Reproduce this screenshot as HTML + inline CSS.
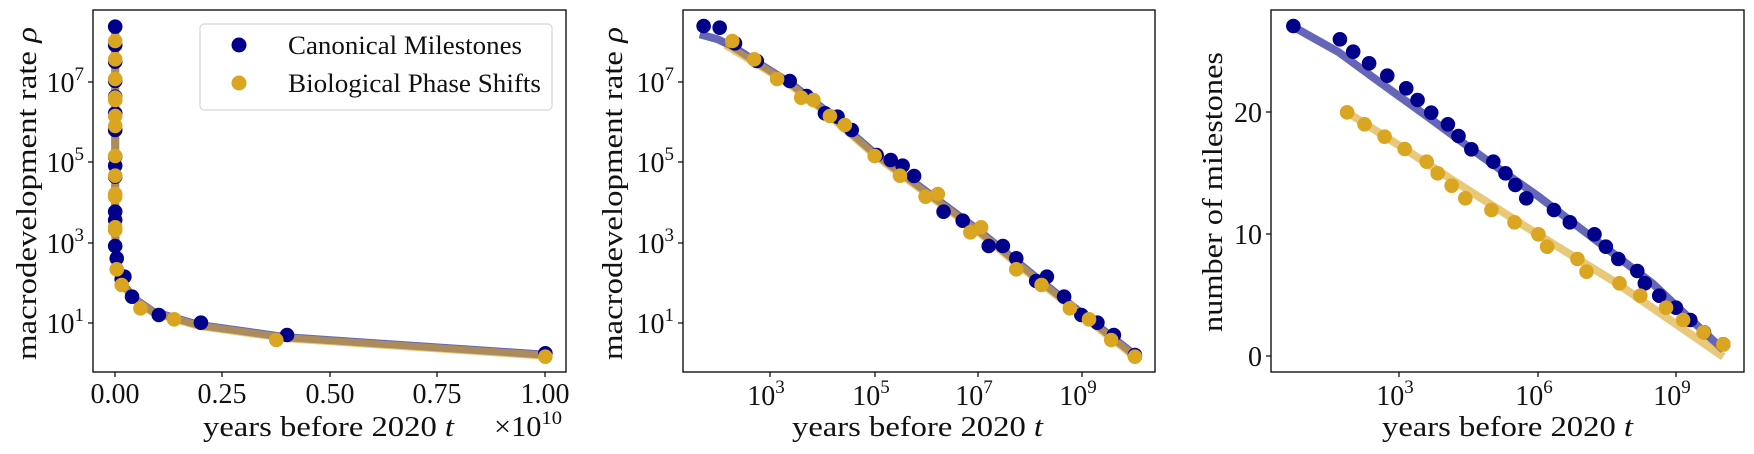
<!DOCTYPE html>
<html><head><meta charset="utf-8">
<style>
body{margin:0;background:#fff;}
svg{display:block;font-family:"Liberation Serif",serif;}
text{fill:#111;}
</style></head>
<body>
<svg id="s" width="1754" height="454" viewBox="0 0 1754 454" xmlns="http://www.w3.org/2000/svg">
<rect width="1754" height="454" fill="#fff"/>
<g id="lines"></g>
<g id="dots"></g>
<rect x="93" y="10" width="473" height="362" fill="none" stroke="#000" stroke-width="1.3"/>
<rect x="683" y="10" width="472" height="362" fill="none" stroke="#000" stroke-width="1.3"/>
<rect x="1271" y="10" width="473" height="362" fill="none" stroke="#000" stroke-width="1.3"/>
<g stroke="#000" stroke-width="1.2">
<line x1="88" y1="82" x2="93" y2="82"/><line x1="88" y1="162" x2="93" y2="162"/><line x1="88" y1="243" x2="93" y2="243"/><line x1="88" y1="323" x2="93" y2="323"/>
<line x1="115" y1="372" x2="115" y2="377"/><line x1="222" y1="372" x2="222" y2="377"/><line x1="330" y1="372" x2="330" y2="377"/><line x1="437" y1="372" x2="437" y2="377"/><line x1="545" y1="372" x2="545" y2="377"/>
<line x1="678" y1="82" x2="683" y2="82"/><line x1="678" y1="162" x2="683" y2="162"/><line x1="678" y1="243" x2="683" y2="243"/><line x1="678" y1="323" x2="683" y2="323"/>
<line x1="770" y1="372" x2="770" y2="377"/><line x1="875" y1="372" x2="875" y2="377"/><line x1="978" y1="372" x2="978" y2="377"/><line x1="1082" y1="372" x2="1082" y2="377"/>
<line x1="1266" y1="112" x2="1271" y2="112"/><line x1="1266" y1="234" x2="1271" y2="234"/><line x1="1266" y1="356" x2="1271" y2="356"/>
<line x1="1399" y1="372" x2="1399" y2="377"/><line x1="1538" y1="372" x2="1538" y2="377"/><line x1="1676" y1="372" x2="1676" y2="377"/>
</g>
<g font-size="28">
<text x="84" y="92" text-anchor="end">10<tspan dy="-12" font-size="19">7</tspan></text>
<text x="84" y="172" text-anchor="end">10<tspan dy="-12" font-size="19">5</tspan></text>
<text x="84" y="253" text-anchor="end">10<tspan dy="-12" font-size="19">3</tspan></text>
<text x="84" y="333" text-anchor="end">10<tspan dy="-12" font-size="19">1</tspan></text>
<text x="115" y="403" text-anchor="middle">0.00</text>
<text x="222" y="403" text-anchor="middle">0.25</text>
<text x="330" y="403" text-anchor="middle">0.50</text>
<text x="437" y="403" text-anchor="middle">0.75</text>
<text x="545" y="403" text-anchor="middle">1.00</text>
<text x="203" y="436" textLength="251" lengthAdjust="spacingAndGlyphs">years before 2020 <tspan font-style="italic">t</tspan></text>
<text x="494" y="436" textLength="68" lengthAdjust="spacingAndGlyphs">×10<tspan dy="-12" font-size="19">10</tspan></text>
<text transform="translate(36,360) rotate(-90)" textLength="333" lengthAdjust="spacingAndGlyphs">macrodevelopment rate <tspan font-style="italic">ρ</tspan></text>
<text x="674" y="92" text-anchor="end">10<tspan dy="-12" font-size="19">7</tspan></text>
<text x="674" y="172" text-anchor="end">10<tspan dy="-12" font-size="19">5</tspan></text>
<text x="674" y="253" text-anchor="end">10<tspan dy="-12" font-size="19">3</tspan></text>
<text x="674" y="333" text-anchor="end">10<tspan dy="-12" font-size="19">1</tspan></text>
<text x="766" y="405" text-anchor="middle">10<tspan dy="-12" font-size="19">3</tspan></text>
<text x="871" y="405" text-anchor="middle">10<tspan dy="-12" font-size="19">5</tspan></text>
<text x="974" y="405" text-anchor="middle">10<tspan dy="-12" font-size="19">7</tspan></text>
<text x="1078" y="405" text-anchor="middle">10<tspan dy="-12" font-size="19">9</tspan></text>
<text x="792" y="436" textLength="251" lengthAdjust="spacingAndGlyphs">years before 2020 <tspan font-style="italic">t</tspan></text>
<text transform="translate(622,360) rotate(-90)" textLength="333" lengthAdjust="spacingAndGlyphs">macrodevelopment rate <tspan font-style="italic">ρ</tspan></text>
<text x="1262" y="122" text-anchor="end">20</text>
<text x="1262" y="244" text-anchor="end">10</text>
<text x="1262" y="366" text-anchor="end">0</text>
<text x="1395" y="405" text-anchor="middle">10<tspan dy="-12" font-size="19">3</tspan></text>
<text x="1534" y="405" text-anchor="middle">10<tspan dy="-12" font-size="19">6</tspan></text>
<text x="1672" y="405" text-anchor="middle">10<tspan dy="-12" font-size="19">9</tspan></text>
<text x="1382" y="436" textLength="251" lengthAdjust="spacingAndGlyphs">years before 2020 <tspan font-style="italic">t</tspan></text>
<text transform="translate(1222,332) rotate(-90)" textLength="280" lengthAdjust="spacingAndGlyphs">number of milestones</text>
</g>
<rect x="200" y="24" width="352" height="86" rx="4" fill="#fff" fill-opacity="0.85" stroke="#ccc" stroke-width="1"/>
<circle cx="239" cy="45" r="7.5" fill="#00008b"/>
<circle cx="239" cy="83" r="7.5" fill="#daa520"/>
<text x="288" y="54" font-size="26" textLength="234" lengthAdjust="spacingAndGlyphs">Canonical Milestones</text>
<text x="288" y="92" font-size="26" textLength="253" lengthAdjust="spacingAndGlyphs">Biological Phase Shifts</text>
</svg>
<script>
var NS="http://www.w3.org/2000/svg";
var L=document.getElementById('lines'),D=document.getElementById('dots');
function conv(p,xo,sx){return p.map(function(a){return [xo+a[0]/sx,a[1]/3];});}
function line(p,col,w){var e=document.createElementNS(NS,'polyline');e.setAttribute('points',p.map(function(a){return a[0].toFixed(1)+','+a[1].toFixed(1)}).join(' '));e.setAttribute('fill','none');e.setAttribute('stroke',col);e.setAttribute('stroke-width',w);e.setAttribute('stroke-linejoin','round');e.setAttribute('stroke-opacity','0.6');L.appendChild(e);}
function dots(p,col){p.forEach(function(a){var c=document.createElementNS(NS,'circle');c.setAttribute('cx',a[0]);c.setAttribute('cy',a[1]);c.setAttribute('r',7.3);c.setAttribute('fill',col);D.appendChild(c);});}
var B='#00008b',Y='#daa520';
var s1=2.613;
var p1b=[[301,80],[301,135],[301,185],[301,243],[301,290],[301,340],[301,390],[301,470],[301,497],[301,530],[301,635],[301,660],[301,738],[305,775],[318,838],[325,830],[345,890],[415,945],[525,968],[750,1005],[1425,1060]];
var p1y=[[301,123],[301,178],[301,237],[301,293],[301,300],[301,348],[301,378],[301,468],[301,527],[301,590],[301,582],[301,690],[301,682],[305,808],[318,855],[367,925],[455,958],[722,1020],[1425,1070]];
var l1=[[301,80],[301,700],[305,790],[320,850],[350,895],[400,935],[520,975],[750,1012],[1425,1064]];
line(conv(l1,0,s1),B,8);line(conv(l1.map(function(a){return [a[0],a[1]+3]}),0,s1),Y,8);
var p2b=[[323,78],[365,83],[405,130],[462,183],[548,243],[592,288],[640,340],[673,350],[710,390],[775,465],[812,480],[843,497],[873,528],[950,635],[1000,662],[1068,738],[1105,738],[1140,775],[1192,843],[1220,830],[1265,890],[1310,945],[1352,968],[1395,1005],[1450,1065]];
var p2y=[[398,123],[455,178],[515,237],[578,293],[610,300],[653,348],[692,375],[770,468],[836,527],[903,590],[935,582],[1020,697],[1048,682],[1140,808],[1206,855],[1280,925],[1330,958],[1388,1020],[1450,1070]];
var l2=[[313,103],[360,118],[400,140],[460,185],[550,250],[640,330],[770,460],[1040,690],[1200,840],[1450,1065]];
line(conv(l2,580,s1),B,8);line(conv([[380,135],[460,190],[550,255],[640,335],[770,465],[1040,695],[1200,845],[1450,1070]],580,s1),Y,8);
var s3=2.64;
var p3b=[[352,78],[475,118],[510,155],[552,190],[600,227],[650,265],[680,300],[716,338],[760,373],[788,408],[822,448],[880,485],[912,520],[938,555],[967,595],[1040,630],[1082,667],[1147,703],[1177,740],[1210,777],[1260,813],[1280,850],[1318,887],[1362,923],[1400,960],[1436,997],[1487,1033]];
var p3y=[[494,337],[540,373],[593,410],[646,447],[704,485],[733,520],[770,557],[806,595],[875,630],[936,667],[999,703],[1022,740],[1102,777],[1126,815],[1213,850],[1268,887],[1336,923],[1381,960],[1435,997],[1487,1033]];
line(conv([[352,80],[470,155],[560,230],[700,345],[850,470],[1000,590],[1150,720],[1300,850],[1487,1050]],1160,s3),B,8);
line(conv([[494,337],[650,450],[800,560],[1000,705],[1200,845],[1487,1070]],1160,s3),Y,8);
dots(conv(p1b,0,s1),B);dots(conv(p1y,0,s1),Y);
dots(conv(p2b,580,s1),B);dots(conv(p2y,580,s1),Y);
dots(conv(p3b,1160,s3),B);dots(conv(p3y,1160,s3),Y);
</script>
</body></html>
